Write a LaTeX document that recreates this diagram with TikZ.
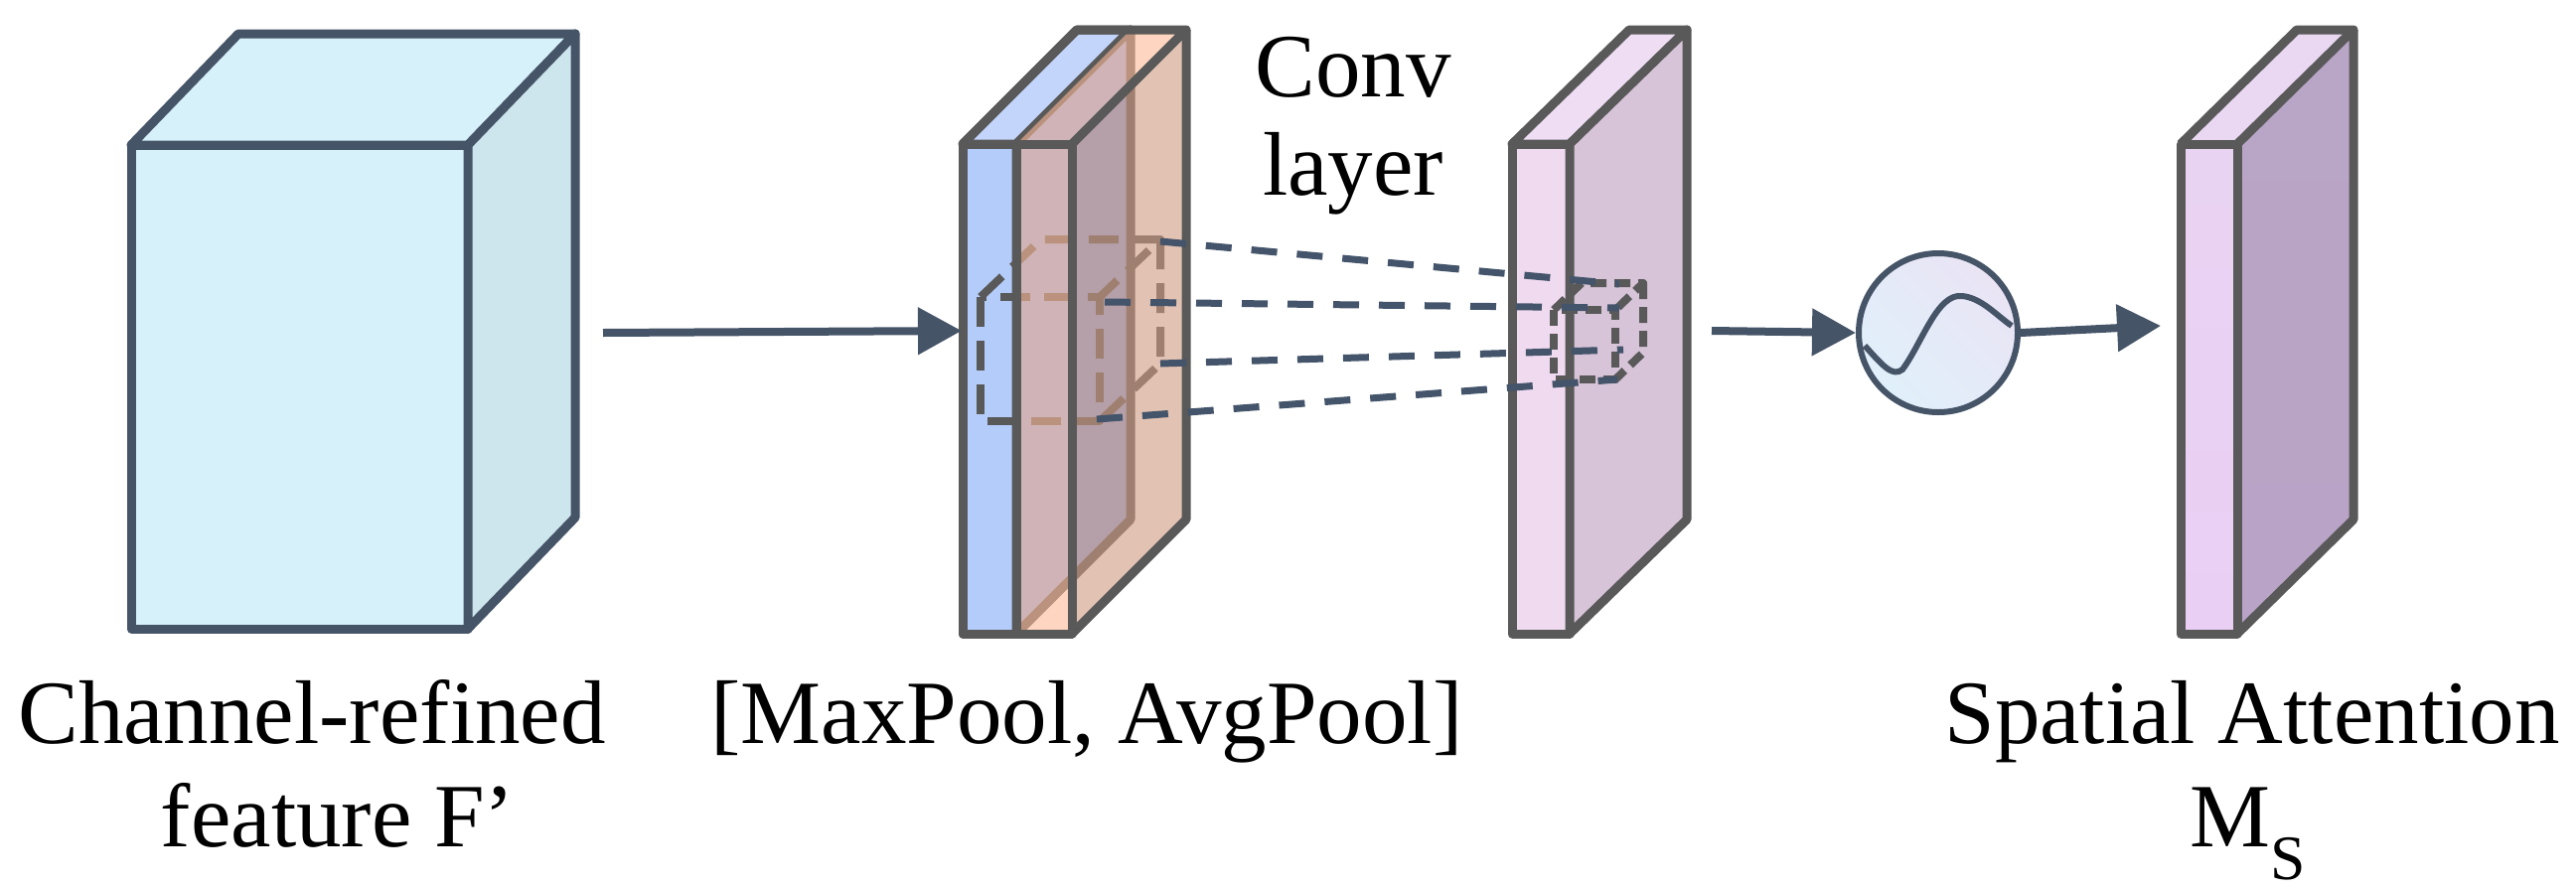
\documentclass[tikz,border=0pt]{standalone}
\usepackage{fontspec}
\setmainfont{Liberation Serif}
\newfontfamily\tms{Liberation Serif}
\usetikzlibrary{arrows.meta}
\definecolor{cs}{HTML}{465468}
\definecolor{gs}{HTML}{595959}
\definecolor{dl}{HTML}{44546A}
\tikzset{
  x=1pt,y=-1pt,
  cube/.style={draw=cs,line width=9pt,line join=round},
  slab/.style={draw=gs,line width=9pt,line join=round},
  dcube/.style={draw=gs,line width=8pt,dash pattern=on 30pt off 14pt,line join=round},
  conn/.style={draw=dl,line width=7pt,dash pattern=on 26pt off 20pt},
  arr/.style={draw=cs,line width=8pt,-{Triangle[length=44pt,width=46pt]}},
  lbl/.style={font=\tms\fontsize{91}{104}\selectfont,inner sep=0pt,anchor=base,align=center},
}
\begin{document}
\begin{tikzpicture}
\useasboundingbox (0,0) rectangle (2593,895);
% big cube
\filldraw[cube,fill={rgb,255:red,214;green,241;blue,249}] (132,146) rectangle (471,633);
\filldraw[cube,fill={rgb,255:red,214;green,241;blue,249}] (132,146) -- (240,34) -- (579,34) -- (471,146) -- cycle;
\filldraw[cube,fill={rgb,255:red,205;green,229;blue,236}] (471,146) -- (579,34) -- (579,521) -- (471,633) -- cycle;
% blue slab
\filldraw[slab,fill={rgb,255:red,180;green,204;blue,250}] (969,145) rectangle (1023,638);
\filldraw[slab,fill={rgb,255:red,195;green,213;blue,250}] (969,145) -- (1084,30) -- (1138,30) -- (1023,145) -- cycle;
\filldraw[slab,fill={rgb,255:red,142;green,170;blue,230}] (1023,145) -- (1138,30) -- (1138,523) -- (1023,638) -- cycle;
% dashed cube in pool
\draw[dcube] (987,299) rectangle (1107,424);
\draw[dcube] (987,299) -- (1048,241) -- (1168,241) -- (1107,299);
\draw[dcube] (1168,241) -- (1168,366) -- (1107,424);
% orange slab
\fill[fill={rgb,255:red,252;green,185;blue,150},opacity=.6] (1023,145) rectangle (1079,638);
\fill[fill={rgb,255:red,252;green,185;blue,150},opacity=.6] (1023,145) -- (1138,30) -- (1194,30) -- (1079,145) -- cycle;
\fill[fill={rgb,255:red,207;green,153;blue,127},opacity=.6] (1079,145) -- (1194,30) -- (1194,523) -- (1079,638) -- cycle;
\draw[slab] (969,145) -- (969,638) -- (1079,638) -- (1079,145) -- cycle;
\draw[slab] (969,145) -- (1084,30) -- (1194,30) -- (1079,145);
\draw[slab] (1194,30) -- (1194,523) -- (1079,638);
\draw[slab] (1023,145) -- (1023,638);
% conv slab
\filldraw[slab,fill={rgb,255:red,240;green,218;blue,240}] (1522,145) rectangle (1580,638);
\filldraw[slab,fill={rgb,255:red,238;green,221;blue,243}] (1522,145) -- (1640,30) -- (1698,30) -- (1580,145) -- cycle;
\filldraw[slab,fill={rgb,255:red,216;green,196;blue,217}] (1580,145) -- (1698,30) -- (1698,523) -- (1580,638) -- cycle;
% small cube
\draw[dcube,dash pattern=on 16pt off 8pt] (1564,312) rectangle (1626,382);
\draw[dcube,dash pattern=on 16pt off 8pt] (1564,312) -- (1592,285) -- (1654,285) -- (1626,312);
\draw[dcube,dash pattern=on 16pt off 8pt] (1654,285) -- (1654,355) -- (1626,382);
% connectors
\coordinate (a1) at (1168,243); \coordinate (b1) at (1630,286);
\coordinate (a2) at (1112,304); \coordinate (b2) at (1630,310);
\coordinate (a3) at (1168,366); \coordinate (b3) at (1634,352);
\coordinate (a4) at (1104,422); \coordinate (b4) at (1628,382);
\draw[conn] (a1) -- (b1);
\draw[conn] (a2) -- (b2);
\draw[conn] (a3) -- (b3);
\draw[conn] (a4) -- (b4);
% final slab
\shade[top color={rgb,255:red,233;green,211;blue,242},middle color={rgb,255:red,221;green,166;blue,238},bottom color={rgb,255:red,233;green,207;blue,244}] (2195,145) rectangle (2252,638);
\fill[fill={rgb,255:red,234;green,216;blue,243}] (2195,145) -- (2312,30) -- (2369,30) -- (2252,145) -- cycle;
\shade[top color={rgb,255:red,185;green,165;blue,198},middle color={rgb,255:red,176;green,126;blue,190},bottom color={rgb,255:red,185;green,163;blue,198}] (2252,145) -- (2369,30) -- (2369,523) -- (2252,638) -- cycle;
\draw[slab] (2195,145) rectangle (2252,638);
\draw[slab] (2195,145) -- (2312,30) -- (2369,30) -- (2252,145);
\draw[slab] (2369,30) -- (2369,523) -- (2252,638);
% sigmoid
\node[circle,minimum size=160pt,inner sep=0pt,draw=cs,line width=6pt,left color={rgb,255:red,234;green,228;blue,245},right color={rgb,255:red,224;green,240;blue,250},shading angle=-45] (sig) at (1951,335) {};
\draw[cs,line width=6pt] (1877,348) .. controls (1895,368) and (1905,380) .. (1915,372) .. controls (1935,345) and (1950,295) .. (1975,298) .. controls (1995,300) and (2010,318) .. (2025,328);
% arrows
\coordinate (s1) at (607,335);
\coordinate (t1) at (968,333);
\draw[arr] (s1) -- (t1);
\coordinate (s2) at (1723,333);
\draw[arr] (s2) -- (sig.west);
\coordinate (t3) at (2175,328);
\draw[arr] (sig.east) -- (t3);
% labels
\node[lbl] (l1) at (314,748) {Channel-refined};
\node[lbl] (l2) at (340,852) {feature F’};
\node[lbl] (l3) at (1094,748) {[MaxPool, AvgPool]};
\node[lbl] (l4) at (1362,97) {Conv};
\node[lbl] (l5) at (1362,196) {layer};
\node[lbl] (l6) at (2267,748) {Spatial Attention};
\node[lbl] (l7) at (2263,852) {M\textsubscript{S}};
\end{tikzpicture}
\end{document}
